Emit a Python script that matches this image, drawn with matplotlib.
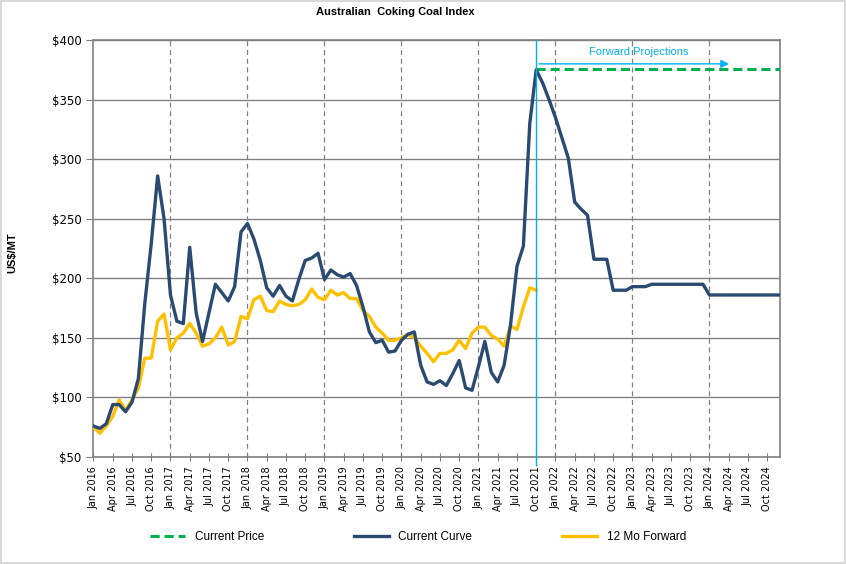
import matplotlib.pyplot as plt
import numpy as np

# monthly data, Jan 2016 .. Dec 2024
start_year = 2016
month_names = ['Jan', 'Apr', 'Jul', 'Oct']

current_curve = [76, 74, 78, 94, 94, 88, 96, 116, 179, 229, 286, 250,
                 186, 164, 162, 226, 171, 147, 171, 195, 188, 181, 193, 239,
                 246, 233, 215, 192, 185, 194, 185, 181, 199, 215, 217, 221,
                 199, 207, 203, 201, 204, 194, 176, 155, 146, 148, 138, 139,
                 148, 153, 155, 127, 113, 111, 114, 110, 120, 131, 108, 106,
                 126, 147, 121, 113, 127, 161, 210, 227, 330, 375,
                 364, 350,
                 335, 318, 301, 264, 258, 253, 216, 216, 216, 190, 190, 190,
                 193, 193, 193, 195, 195, 195, 195, 195, 195, 195, 195, 195,
                 186, 186, 186, 186, 186, 186, 186, 186, 186, 186, 186, 186]

forward_12mo = [75, 70, 76, 84, 98, 89, 98, 108, 133, 133, 164, 170,
                140, 150, 154, 162, 154, 143, 145, 150, 159, 144, 147, 168,
                166, 182, 185, 173, 172, 181, 178, 177, 178, 182, 191, 184,
                182, 190, 186, 188, 183, 183, 173, 168, 159, 154, 148, 148,
                150, 153, 150, 143, 137, 130, 137, 137, 140, 148, 141, 154,
                159, 159, 152, 149, 143, 160, 157, 176, 192, 190]

current_price = 376
now_idx = 69  # Oct 2021

months = np.arange(len(current_curve))
tick_pos = months[::3]
tick_labels = [month_names[(i // 3) % 4] + ' ' + str(start_year + i // 12) for i in tick_pos]

fig = plt.figure(figsize=(8.46, 5.64), dpi=100)
fig.patch.set_edgecolor('#d9d9d9')
fig.patch.set_linewidth(1.5)
ax = fig.add_axes([0.1105, 0.1897, 0.8115, 0.7393])

grey = '#808080'
ax.set_ylim(50, 400)
ax.set_xlim(0, months[-1])
ax.set_yticks(np.arange(50, 401, 50))
ax.set_yticklabels(['$' + str(v) for v in range(50, 401, 50)], fontsize=8.5)
ax.yaxis.grid(True, color=grey, lw=1)
for yr in range(1, 9):
    ax.axvline(yr * 12, color=grey, lw=0.9, ls=(0, (4, 3)), zorder=1)
ax.set_axisbelow(True)
for s in ax.spines.values():
    s.set_color(grey)
    s.set_linewidth(1.2)
ax.tick_params(axis='y', colors=grey, direction='out', length=5, labelcolor='black')
ax.set_xticks(tick_pos)
ax.set_xticklabels(tick_labels, rotation=90, fontsize=7)
ax.tick_params(axis='x', colors=grey, direction='inout', length=6, labelcolor='black')

# data
hist = months[:now_idx + 1]
ax.plot(months[now_idx:], [current_price] * len(months[now_idx:]), color='#00B050',
        lw=2.2, ls=(0, (3, 1.6)), label='Current Price', zorder=4)
ax.plot(months, current_curve, color='#2B4A72', lw=2.4, label='Current Curve', zorder=5)
ax.plot(hist, forward_12mo, color='#FFC000', lw=2.4, label='12 Mo Forward', zorder=4)

# forward projection marker
ax.plot([now_idx, now_idx], [400, 43], color='#00B0F0', lw=1, clip_on=False, zorder=6)
ax.annotate('', xy=(99.5, 380), xytext=(now_idx, 380),
            arrowprops=dict(arrowstyle='-|>', color='#00B0F0', lw=1, mutation_scale=12))
ax.text(85, 390, 'Forward Projections', color='#00B0F0', fontsize=8,
        ha='center', va='center', family='Liberation Sans')

fig.text(395 / 846, 1 - 12 / 564, 'Australian  Coking Coal Index', ha='center', va='center',
         fontsize=8, fontweight='bold', family='Liberation Sans')
fig.text(12 / 846, 1 - 253 / 564, 'US$/MT', rotation=90, ha='center', va='center',
         fontsize=8, fontweight='bold', family='Liberation Sans')

fig.legend(loc='center', bbox_to_anchor=(0.494, 0.048), ncol=3, frameon=False,
           handlelength=3.0, columnspacing=7.6, prop={'family': 'Liberation Sans', 'size': 8.5})

fig.savefig('out.png', dpi=100, edgecolor=fig.get_edgecolor())
